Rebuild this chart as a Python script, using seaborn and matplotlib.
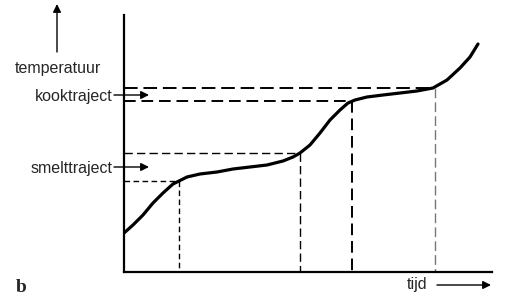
import matplotlib
matplotlib.use("Agg")
import matplotlib.pyplot as plt
import seaborn as sns
import pandas as pd

# Heating curve (time, temperature in arbitrary units)
time = [0, 9, 19, 29, 39, 49, 55, 63, 76, 93, 109, 126, 143, 159, 169, 176,
        186, 196, 206, 216, 224, 231, 243, 259, 276, 293, 309, 323, 336, 346, 354]
temperature = [39, 47, 57, 69, 79, 88, 91, 95, 98, 100, 103, 105, 107, 111, 115, 119,
               127, 139, 152, 162, 169, 172, 175, 177, 179, 181, 184, 192, 204, 215, 228]

# Melting range (start, end) and boiling range (start, end)
melt_times = [55, 176]
melt_temps = [91, 119]
boil_times = [228, 311]
boil_temps = [171, 184]

labels = {"y": "temperatuur", "x": "tijd", "melt": "smelttraject",
          "boil": "kooktraject", "panel": "b"}

W, H = 521, 298
sns.set_style("white")
plt.rcParams["font.family"] = ["Liberation Sans", "DejaVu Sans"]

fig = plt.figure(figsize=(W / 100, H / 100), dpi=100)
ax = fig.add_axes([124 / W, (H - 272) / H, 368 / W, (272 - 15) / H])

df = pd.DataFrame({"tijd": time, "temperatuur": temperature})
sns.lineplot(data=df, x="tijd", y="temperatuur", ax=ax, color="black",
             linewidth=2.3, sort=False, solid_capstyle="round",
             solid_joinstyle="round")

# guide lines
for t, T, lw, dash, col in [
    (melt_times[0], melt_temps[0], 1.0, (4, 2.5), "black"),
    (melt_times[1], melt_temps[1], 1.0, (6, 3), "black"),
    (boil_times[0], boil_temps[0], 1.4, (6, 3), "black"),
    (boil_times[1], boil_temps[1], 1.4, (7, 3), "black"),
]:
    ax.plot([0, t], [T, T], color=col, lw=lw, dashes=dash)
    vcol = "#777777" if t == boil_times[1] else col
    vlw = 1.0 if t == boil_times[1] else lw
    ax.plot([t, t], [T, 0], color=vcol, lw=vlw, dashes=dash)

ax.set_xlim(0, 368)
ax.set_ylim(0, 257)
ax.set_xticks([])
ax.set_yticks([])
ax.set_xlabel("")
ax.set_ylabel("")
for s in ["top", "right"]:
    ax.spines[s].set_visible(False)
for s in ["left", "bottom"]:
    ax.spines[s].set_color("black")
    ax.spines[s].set_linewidth(1.6)


def fp(x, y):
    return (x, H - y)


arrow = dict(arrowstyle="-|>", color="black", lw=1.0, mutation_scale=12,
             shrinkA=0, shrinkB=0)
fs = 11.5

# temperature axis arrow and label
ax.annotate("", xy=fp(57, 4), xytext=fp(57, 52), xycoords="figure pixels",
            textcoords="figure pixels", arrowprops=arrow, annotation_clip=False)
fig.text(58 / W, 1 - 68 / H, labels["y"], ha="center", va="center", fontsize=fs)

# boiling / melting range labels
fig.text(113 / W, 1 - 97 / H, labels["boil"], ha="right", va="center", fontsize=fs)
ax.annotate("", xy=fp(149, 95), xytext=fp(114, 95), xycoords="figure pixels",
            textcoords="figure pixels", arrowprops=arrow, annotation_clip=False)
fig.text(113 / W, 1 - 168 / H, labels["melt"], ha="right", va="center", fontsize=fs)
ax.annotate("", xy=fp(149, 167), xytext=fp(114, 167), xycoords="figure pixels",
            textcoords="figure pixels", arrowprops=arrow, annotation_clip=False)

# time label and arrow
fig.text(417 / W, 1 - 285 / H, labels["x"], ha="center", va="center", fontsize=fs)
ax.annotate("", xy=fp(491, 285), xytext=fp(437, 285), xycoords="figure pixels",
            textcoords="figure pixels", arrowprops=arrow, annotation_clip=False)

# panel letter
fig.text(21 / W, 1 - 287 / H, labels["panel"], ha="center", va="center",
         fontsize=14, fontweight="bold", family=["Liberation Serif", "DejaVu Serif"])

fig.savefig("out.png", dpi=100)
